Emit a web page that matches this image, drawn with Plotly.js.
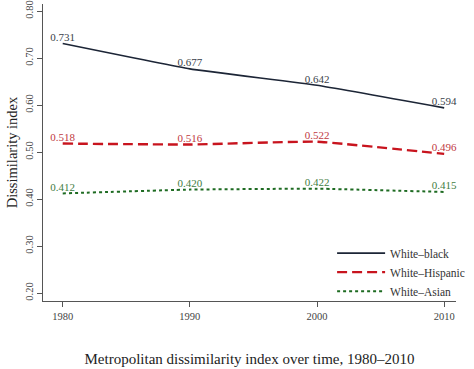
<!DOCTYPE html>
<html><head><meta charset="utf-8">
<script src="https://cdn.plot.ly/plotly-3.0.1.min.js"></script>
<style>html,body{margin:0;padding:0;background:#fff}#c{width:474px;height:369px}</style>
</head><body><div id="c"></div>
<script>
const years = [1980, 1990, 2000, 2010];
const whiteBlack = [0.731, 0.677, 0.642, 0.594];
const whiteHispanic = [0.518, 0.516, 0.522, 0.496];
const whiteAsian = [0.412, 0.420, 0.422, 0.415];
const seriesNames = ["White\u2013black", "White\u2013Hispanic", "White\u2013Asian"];
const yTicks = [0.2, 0.3, 0.4, 0.5, 0.6, 0.7, 0.8];
const yTickText = ["0.20", "0.30", "0.40", "0.50", "0.60", "0.70", "0.80"];

const F = "Liberation Serif, DejaVu Serif, serif";
function tr(y, name, color, dash, width, tcolor) {
  return {x: years, y: y, name: name, type: 'scatter', mode: 'lines+text',
    line: {color: color, dash: dash, width: width, shape: 'spline', smoothing: 0.3},
    text: y.map(v => v.toFixed(3)), textposition: 'top center',
    textfont: {family: F, size: 11, color: tcolor}, cliponaxis: false};
}
const data = [
  tr(whiteBlack, seriesNames[0], '#1c2536', 'solid', 1.6, '#3a3f4a'),
  tr(whiteHispanic, seriesNames[1], '#c8141e', '10px,5px', 2.4, '#c0393f'),
  tr(whiteAsian, seriesNames[2], '#1e6b22', 'dot', 2, '#3f7d43')
];
const layout = {
  width: 474, height: 369,
  margin: {l: 43, r: 12, t: 4, b: 68},
  paper_bgcolor: '#fff', plot_bgcolor: '#fff',
  showlegend: true,
  legend: {x: 0.70, y: 0.21, xanchor: 'left', yanchor: 'top', bgcolor: 'rgba(0,0,0,0)',
    font: {family: F, size: 11.5, color: '#333'}, tracegroupgap: 0, itemwidth: 48},
  xaxis: {range: [1978.45, 2010.93], tickvals: years, ticktext: years.map(String),
    showgrid: false, zeroline: false, showline: true, linecolor: '#555', linewidth: 1,
    ticks: 'outside', ticklen: 5, tickcolor: '#555',
    tickfont: {family: F, size: 10.5, color: '#444'},
    title: {text: 'Metropolitan dissimilarity index over time, 1980\u20132010',
      font: {family: F, size: 15, color: '#222'}, standoff: 32}},
  yaxis: {range: [0.183, 0.815], tickvals: yTicks, ticktext: yTickText, tickangle: -90,
    showgrid: false, zeroline: false, showline: true, linecolor: '#555', linewidth: 1,
    ticks: 'outside', ticklen: 5, tickcolor: '#555',
    tickfont: {family: F, size: 10.5, color: '#444'},
    title: {text: 'Dissimilarity index', font: {family: F, size: 14.5, color: '#222'}, standoff: 2}}
};
Plotly.newPlot('c', data, layout, {displayModeBar: false, staticPlot: true});
</script></body></html>
